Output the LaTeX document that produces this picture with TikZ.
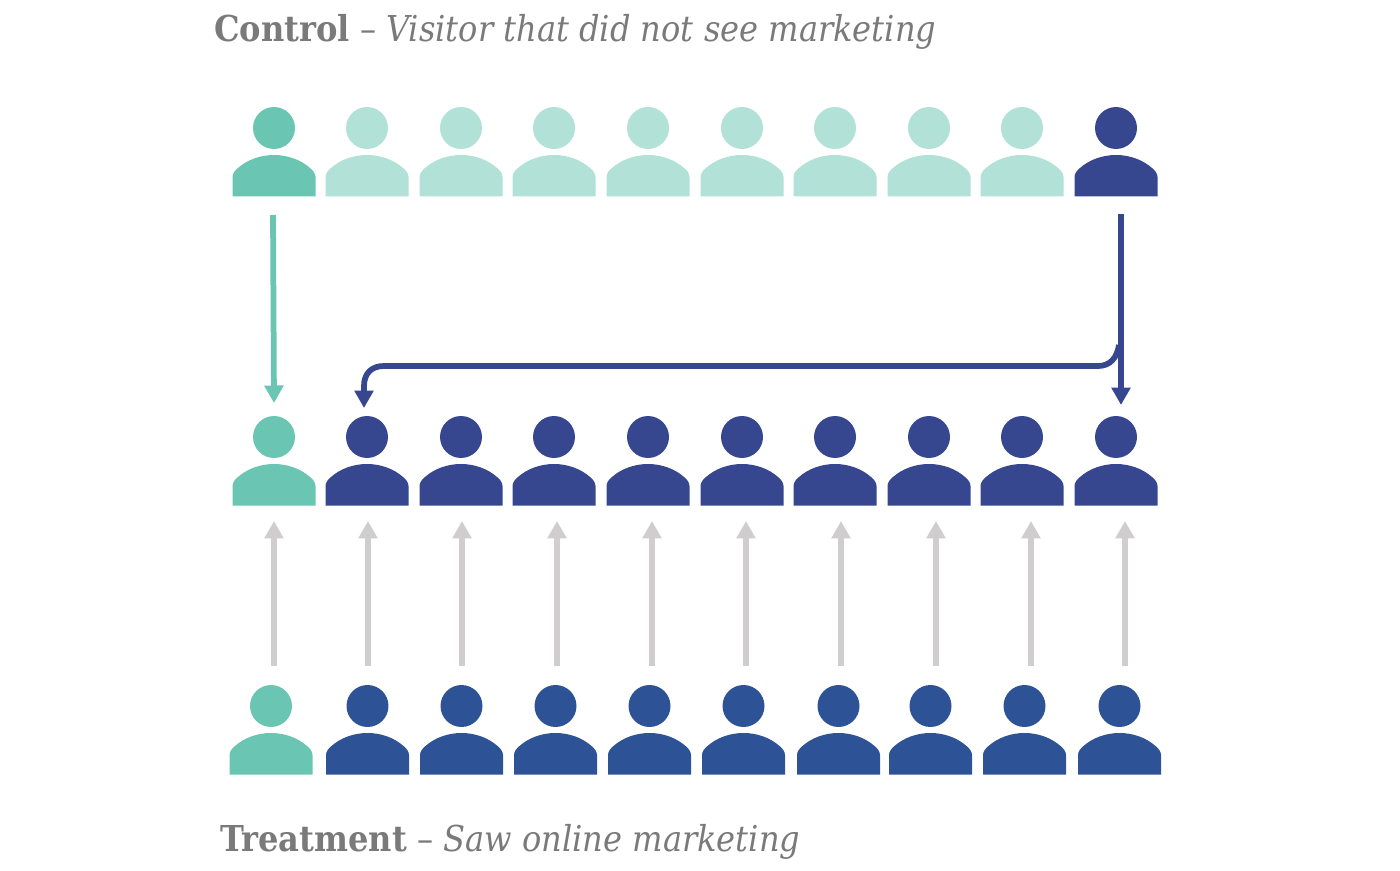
\documentclass[tikz,border=0pt]{standalone}
\usepackage{xcolor}
\usepackage{fontspec}
\setmainfont{DejaVu Serif Condensed}
\usepackage{tikz}
\usetikzlibrary{arrows.meta}

\definecolor{tealdark}{HTML}{6AC5B2}
\definecolor{teallight}{HTML}{B2E1D8}
\definecolor{navy}{HTML}{37478F}
\definecolor{treatblue}{HTML}{2E5296}
\definecolor{arrowgray}{HTML}{CFCDCE}
\definecolor{textgray}{HTML}{7A7A7A}

\tikzset{
  person/.pic={
    \node[circle, fill=#1, minimum size=0.84cm, inner sep=0pt] (-head) at (0,0) {};
    \fill[#1] (-41.5,68.5) -- (-41.5,49) .. controls (-41.5,45.5) and (-39,42.5) .. (-36,40)
      .. controls (-27,32) and (-14,27) .. (0,27)
      .. controls (14,27) and (27,32) .. (36,40)
      .. controls (39,42.5) and (41.5,45.5) .. (41.5,49) -- (41.5,68.5) -- cycle;
    \coordinate (-base) at (0,68.5);
  },
  flow/.style={line width=0.115cm, -{Triangle[length=0.35cm,width=0.37cm]}},
  caption/.style={anchor=base west, inner sep=0pt, text=textgray, font=\fontsize{20.3}{25}\selectfont}
}

\begin{document}
\begin{tikzpicture}[x=0.02cm, y=-0.02cm]
  \useasboundingbox (0,0) rectangle (1400,871);

  % Control row
  \foreach \i/\xx/\col in {1/274/tealdark,2/367/teallight,3/461/teallight,4/554/teallight,5/648/teallight,6/742/teallight,7/835/teallight,8/929/teallight,9/1022/teallight,10/1116/navy} {
    \pic (ctrl\i) at (\xx,128) {person=\col};
  }

  % Middle row
  \foreach \i/\xx/\col in {1/274/tealdark,2/367/navy,3/461/navy,4/554/navy,5/648/navy,6/742/navy,7/835/navy,8/929/navy,9/1022/navy,10/1116/navy} {
    \pic (mid\i) at (\xx,437) {person=\col};
  }

  % Treatment row
  \foreach \i/\xx/\col in {1/271/tealdark,2/367.5/treatblue,3/461.5/treatblue,4/555.5/treatblue,5/649.5/treatblue,6/743.5/treatblue,7/838.5/treatblue,8/930.5/treatblue,9/1024.5/treatblue,10/1119.5/treatblue} {
    \pic (treat\i) at (\xx,706) {person=\col};
  }

  % Gray arrows
  \foreach \i/\xx in {1/274,2/368,3/462,4/557,5/652,6/746,7/841,8/936,9/1031,10/1125} {
    \coordinate (up\i) at (\xx,666);
    \coordinate (uptip\i) at (\xx,521);
    \draw[flow, arrowgray] (up\i) -- (uptip\i);
  }

  % Control arrows
  \coordinate (tealstart) at (273,215);
  \coordinate (tealtip) at (274,403);
  \draw[flow, tealdark] (tealstart) -- (tealtip);
  \coordinate (navystart) at (1121,214);
  \coordinate (navytip) at (1121,405);
  \draw[flow, navy] (navystart) -- (navytip);

  % Branch to the treated visitors
  \coordinate (branch) at (1119,345);
  \coordinate (branchtip) at (364,408);
  \draw[flow, navy] (branch) .. controls (1117,358) and (1110,366) .. (1098,366)
    -- (384,366) .. controls (371,366) and (364,374) .. (364,386) -- (branchtip);

  % Captions
  \node[caption] (ctrllabel) at (214,42) {\textbf{Control} -- \textit{Visitor that did not see marketing}};
  \node[caption] (treatlabel) at (220,851) {\textbf{Treatment} -- \textit{Saw online marketing}};
\end{tikzpicture}
\end{document}
